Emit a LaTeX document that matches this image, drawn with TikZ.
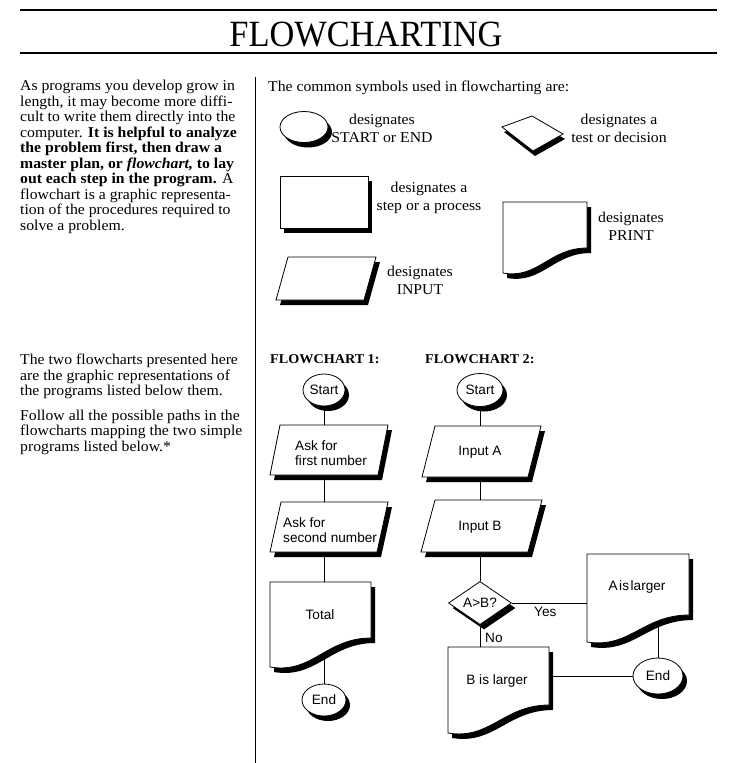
\documentclass[tikz,border=0pt]{standalone}
\usepackage{fontspec}
\setmainfont[FakeStretch=1.05]{Liberation Serif}
\newfontfamily\titlefont[FakeStretch=0.93]{Liberation Serif}
\newfontfamily\fcfont{Liberation Sans}
\usetikzlibrary{shapes.geometric,shadows,fit,calc}
\pgfdeclarelayer{bg}
\pgfsetlayers{bg,main}

\tikzset{
  shp/.style={draw=black, fill=white, line width=0.8pt},
  shd/.style={drop shadow={shadow xshift=4pt, shadow yshift=-5pt, opacity=1, fill=black}},
  conn/.style={draw=black, line width=0.8pt},
  fctext/.style={font=\fcfont\fontsize{13.6}{15}\selectfont, inner sep=0pt},
  bodytext/.style={font=\fontsize{15}{15.5}\selectfont, align=left, inner sep=0pt, anchor=north west},
  symlab/.style={font=\fontsize{15}{18}\selectfont, align=center, inner sep=0pt, anchor=north},
  headtext/.style={font=\bfseries\fontsize{13.5}{15}\selectfont, inner sep=0pt, anchor=base west},
  rule/.style={line width=2.5pt, draw=black},
}

% parallelogram: name, bottom-left x, top y, bottom y, width, skew
\newcommand\parashape[6]{%
  \begin{scope}[shift={(4,5)}]
    \fill[black] ({#2+#6},#3) -- ({#2+#6+#5},#3) -- ({#2+#5},#4) -- (#2,#4) -- cycle;
  \end{scope}
  \path[shp] ({#2+#6},#3) -- ({#2+#6+#5},#3) -- ({#2+#5},#4) -- (#2,#4) -- cycle;
  \node[fit={(#2,#3) ({#2+#6+#5},#4)}, inner sep=0pt] (#1) {};
}
% document (print) shape: name, x1, top y, x2, left bottom y, right bottom y
\newcommand\docshape[6]{%
  \begin{scope}[shift={(4,5)}]
    \fill[black] (#2,#3) -- (#4,#3) -- (#4,#6)
      .. controls ({#2+0.55*(#4-#2)},#6) and ({#2+0.42*(#4-#2)},{#5+0.25*(#5-#6)}) .. (#2,#5) -- cycle;
  \end{scope}
  \path[shp] (#2,#3) -- (#4,#3) -- (#4,#6)
      .. controls ({#2+0.55*(#4-#2)},#6) and ({#2+0.42*(#4-#2)},{#5+0.25*(#5-#6)}) .. (#2,#5) -- cycle;
  \node[fit={(#2,#3) (#4,#5)}, inner sep=0pt] (#1) {};
}

\begin{document}
\begin{tikzpicture}[x=1pt, y=-1pt]
\useasboundingbox (0,0) rectangle (737,763);

% ---------- title ----------
\coordinate (tl1) at (20,10);  \coordinate (tr1) at (717,10);
\coordinate (tl2) at (20,53);  \coordinate (tr2) at (717,53);
\draw[rule] (tl1) -- (tr1);
\draw[rule] (tl2) -- (tr2);
\node[font=\titlefont\fontsize{37}{40}\selectfont, anchor=base, inner sep=0pt] (title) at (366,46) {FLOWCHARTING};

% divider
\coordinate (dv1) at (255.5,77); \coordinate (dv2) at (255.5,763);
\draw[line width=1.2pt] (dv1) -- (dv2);

% ---------- left text ----------
\node[bodytext] (para1) at (20,80) {As programs you develop grow in\\
length, it may become more diffi-\\
cult to write them directly into the\\
computer. \textbf{It is helpful to analyze}\\
\textbf{the problem first, then draw a}\\
\textbf{master plan, or \textit{flowchart,} to lay}\\
\textbf{out each step in the program.} A\\
flowchart is a graphic representa-\\
tion of the procedures required to\\
solve a problem.};

\node[bodytext] (para2) at (20,354) {The two flowcharts presented here\\
are the graphic representations of\\
the programs listed below them.\\[9pt]
Follow all the possible paths in the\\
flowcharts mapping the two simple\\
programs listed below.*};

% ---------- symbols ----------
\node[font=\fontsize{15}{18}\selectfont, inner sep=0pt, anchor=base west] (symhead) at (268,91) {The common symbols used in flowcharting are:};

\node[shp, shd, ellipse, minimum width=48pt, minimum height=31pt, inner sep=0pt] (sE) at (304,127) {};
\node[symlab] (lE) at (382,114) {designates\\START or END};

\begin{scope}[shift={(2,5)}]
  \fill[black] (502,127) -- (532,116) -- (563,134) -- (533,151) -- cycle;
\end{scope}
\path[shp] (502,127) -- (532,116) -- (563,134) -- (533,151) -- cycle;
\node[fit={(502,116) (563,151)}, inner sep=0pt] (sD) {};
\node[symlab] (lD) at (619,114) {designates a\\test or decision};

\node[shp, shd, rectangle, minimum width=88pt, minimum height=52pt, inner sep=0pt] (sR) at (324,202) {};
\node[symlab] (lR) at (429,182) {designates a\\step or a process};

\docshape{sP}{503}{202}{587}{273}{248}
\node[symlab] (lP) at (631,212) {designates\\PRINT};

\parashape{sI}{276}{257}{300}{88}{12}
\node[symlab] (lI) at (420,266) {designates\\INPUT};

% ---------- flowchart headings ----------
\node[headtext] (fc1h) at (270,363) {FLOWCHART 1:};
\node[headtext] (fc2h) at (425,363) {FLOWCHART 2:};

% ---------- flowchart 1 ----------
\node[shp, shd, ellipse, minimum width=42pt, minimum height=32pt, fctext] (s1) at (324,390) {Start};
\parashape{p1}{270}{425}{475}{108}{10}
\node[fctext, align=left, anchor=north west] (p1t) at (295,440) {Ask for\\first number};
\parashape{p2}{270}{502}{552}{107}{11}
\node[fctext, align=left, anchor=north west] (p2t) at (283,517) {Ask for\\second number};
\docshape{d1}{270}{582}{371}{667}{638}
\node[fctext] (d1t) at (320,615) {Total};
\node[shp, shd, ellipse, minimum width=44pt, minimum height=32pt, fctext] (e1) at (324,700) {End};

% ---------- flowchart 2 ----------
\node[shp, shd, ellipse, minimum width=46pt, minimum height=33pt, fctext] (s2) at (480,390) {Start};
\parashape{pA}{422}{426}{477}{106}{13}
\node[fctext] (pAt) at (480,452) {Input A};
\parashape{pB}{421}{500}{552}{107}{14}
\node[fctext] (pBt) at (480,527) {Input B};
\node[shp, shd, diamond, minimum width=63pt, minimum height=40pt, fctext] (dia) at (480,603) {A>B?};
\docshape{dA}{587}{554}{689}{642}{615}
\node[fctext] (dAt) at (637,587) {\spaceskip=0.12em A is larger};
\node[shp, shd, ellipse, minimum width=50pt, minimum height=36pt, fctext] (e2) at (658,676) {End};
\docshape{dB}{448}{647}{549}{733}{705}
\node[fctext] (dBt) at (497,681) {B is larger};
\node[fctext, anchor=west] (yes) at (534,612) {Yes};
\node[fctext, anchor=west] (no) at (485,638) {No};

% ---------- connectors ----------
\begin{pgfonlayer}{bg}
  \draw[conn] (s1) -- (s1 |- p1.center);
  \draw[conn] (s1 |- p1.center) -- (s1 |- p2.center);
  \draw[conn] (s1 |- p2.center) -- (s1 |- d1.center);
  \draw[conn] (e1) -- (e1 |- d1.center);

  \draw[conn] (s2) -- (s2 |- pA.center);
  \draw[conn] (s2 |- pA.center) -- (s2 |- pB.center);
  \draw[conn] (dia |- pB.center) -- (dia);
  \draw[conn] (dia.east) -- (dia.east -| dA.center);
  \draw[conn] (dia) -- (dia |- dB.center);
  \draw[conn] (e2) -- (e2 |- dA.center);
  \draw[conn] (e2) -- (e2 -| dB.center);
\end{pgfonlayer}
\end{tikzpicture}
\end{document}
